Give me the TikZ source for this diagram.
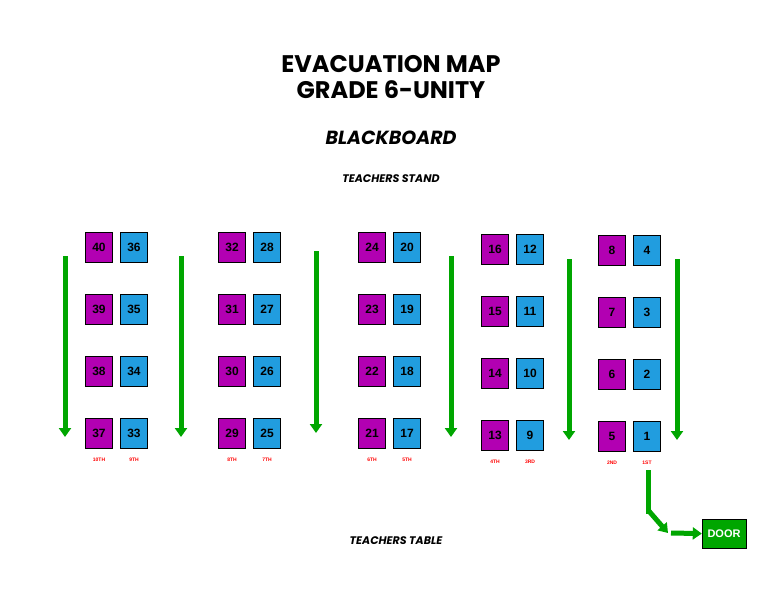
\documentclass[tikz,border=0pt]{standalone}
\usepackage{fontspec}
\usetikzlibrary{positioning, arrows.meta}
\setmainfont{Poppins}
\newfontfamily\labfont{Liberation Sans}
\begin{document}
\begin{tikzpicture}[x=1pt, y=-1pt]
    % Definizione stili
    \tikzset{
        seatp/.style={rectangle, draw, fill=violet!60!magenta, minimum height=30pt,
                     minimum width=27pt, font=\labfont\bfseries\fontsize{12}{12}\selectfont},
        seatb/.style={rectangle, draw, fill=cyan!80!blue!90, minimum height=30pt,
                     minimum width=27pt, font=\labfont\bfseries\fontsize{12}{12}\selectfont},
        order/.style={text=red, font=\labfont\bfseries\fontsize{5}{5}\selectfont},
        way/.style={->, >={Triangle[length=9pt, width=12pt]}, line width=5pt, green!65!black},
        heading/.style={font=\bfseries\fontsize{24}{26}\selectfont},
        caption/.style={font=\bfseries\itshape\fontsize{11}{11}\selectfont}
    }
    \useasboundingbox (0,0) rectangle (768,594);

    % Titoli
    \node[heading, align=center] (title) at (391,77) {EVACUATION MAP\\GRADE 6-UNITY};
    \node[font=\bfseries\itshape\fontsize{19}{19}\selectfont] (board) at (391,138) {BLACKBOARD};
    \node[caption] (stand) at (391,179) {TEACHERS STAND};
    \node[caption] (table) at (396,541) {TEACHERS TABLE};

    % Banchi
    \foreach \k/\xp/\yo in {0/99/0, 1/232/0, 2/372/0, 3/495/2, 4/612/3} {
        \foreach \r in {0,1,2,3} {
            \pgfmathtruncatemacro{\np}{40-8*\k-\r}
            \pgfmathtruncatemacro{\nb}{36-8*\k-\r}
            \node[seatp] (s\np) at (\xp,247+62*\r+\yo) {\np};
            \node[seatb] (s\nb) at (\xp+35,247+62*\r+\yo) {\nb};
        }
    }

    % Ordine di uscita
    \foreach \s/\t in {37/10TH, 33/9TH, 29/8TH, 25/7TH, 21/6TH, 17/5TH, 13/4TH, 9/3RD, 5/2ND, 1/1ST}
        \node[order, below=6pt of s\s] (o\s) {\t};

    % Corridoi
    \foreach \x/\ya/\yb in {65/256/437, 181/256/437, 316/251/433, 451/256/437, 569/259/440, 677/259/440}
        \draw[way] (\x,\ya) -- (\x,\yb);

    % Porta
    \node[draw, fill=green!65!black, text=white, minimum width=44pt, minimum height=29pt,
          font=\labfont\bfseries\fontsize{11}{11}\selectfont] (door) at (724,534) {DOOR};
    \coordinate (bend) at (648,514);
    \coordinate (turn) at (668,533);
    \draw[line width=5pt, green!65!black] (648,470) -- (bend);
    \draw[way] ([yshift=4pt]bend) -- (turn);
    \draw[way] ([xshift=3pt]turn) -- (door);
\end{tikzpicture}
\end{document}
